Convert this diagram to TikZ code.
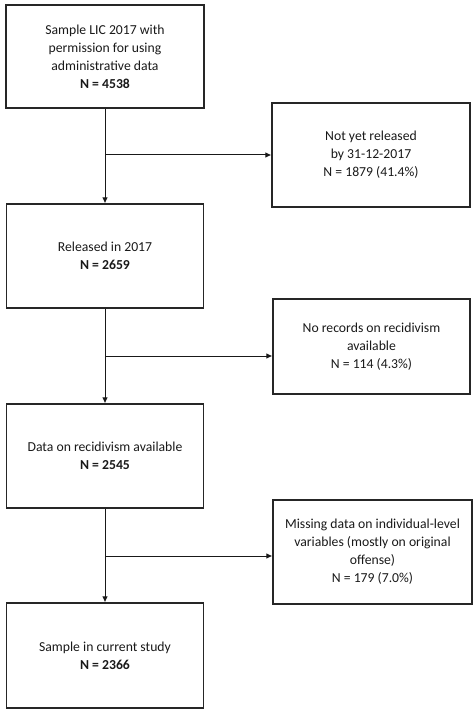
\documentclass[tikz,border=0pt]{standalone}
\usepackage{fontspec}
\setmainfont{Carlito}
\usetikzlibrary{arrows.meta}
\begin{document}
\begin{tikzpicture}[x=1pt,y=-1pt,
  box/.style={draw=black!85,line width=1.1pt,rectangle,align=center,inner sep=0pt,
    font=\fontsize{13.7pt}{18pt}\selectfont,text=black!90},
  conn/.style={draw=black!90,line width=1pt},
  arr/.style={conn,-{Latex[length=6pt,width=5.5pt]}}]
\useasboundingbox (0,0) rectangle (474,714);
\node[box,minimum width=198pt,minimum height=103pt] (b1) at (105,56.5) {Sample LIC 2017 with\\permission for using\\administrative data\\\textbf{N = 4538}};
\node[box,minimum width=198pt,minimum height=104pt] (b2) at (371,155) {Not yet released\\by 31-12-2017\\N = 1879 (41.4\%)};
\node[box,minimum width=197pt,minimum height=104pt] (b3) at (105,256) {Released in 2017\\\textbf{N = 2659}};
\node[box,minimum width=197pt,minimum height=95pt] (b4) at (371.5,346.5) {No records on recidivism\\available\\N = 114 (4.3\%)};
\node[box,minimum width=197pt,minimum height=104pt] (b5) at (105,456) {Data on recidivism available\\\textbf{N = 2545}};
\node[box,minimum width=199pt,minimum height=104pt] (b6) at (372.5,552) {Missing data on individual-level\\variables (mostly on original\\offense)\\N = 179 (7.0\%)};
\node[box,minimum width=197pt,minimum height=105pt] (b7) at (105,655.5) {Sample in current study\\\textbf{N = 2366}};
\coordinate (j1) at (105,155);
\coordinate (j2) at (105,356);
\coordinate (j3) at (105,556);
\draw[arr] (b1.south) -- (b3.north);
\draw[arr] (j1) -- (j1 -| b2.west);
\draw[arr] (b3.south) -- (b5.north);
\draw[arr] (j2) -- (j2 -| b4.west);
\draw[arr] (b5.south) -- (b7.north);
\draw[arr] (j3) -- (j3 -| b6.west);
\end{tikzpicture}
\end{document}
